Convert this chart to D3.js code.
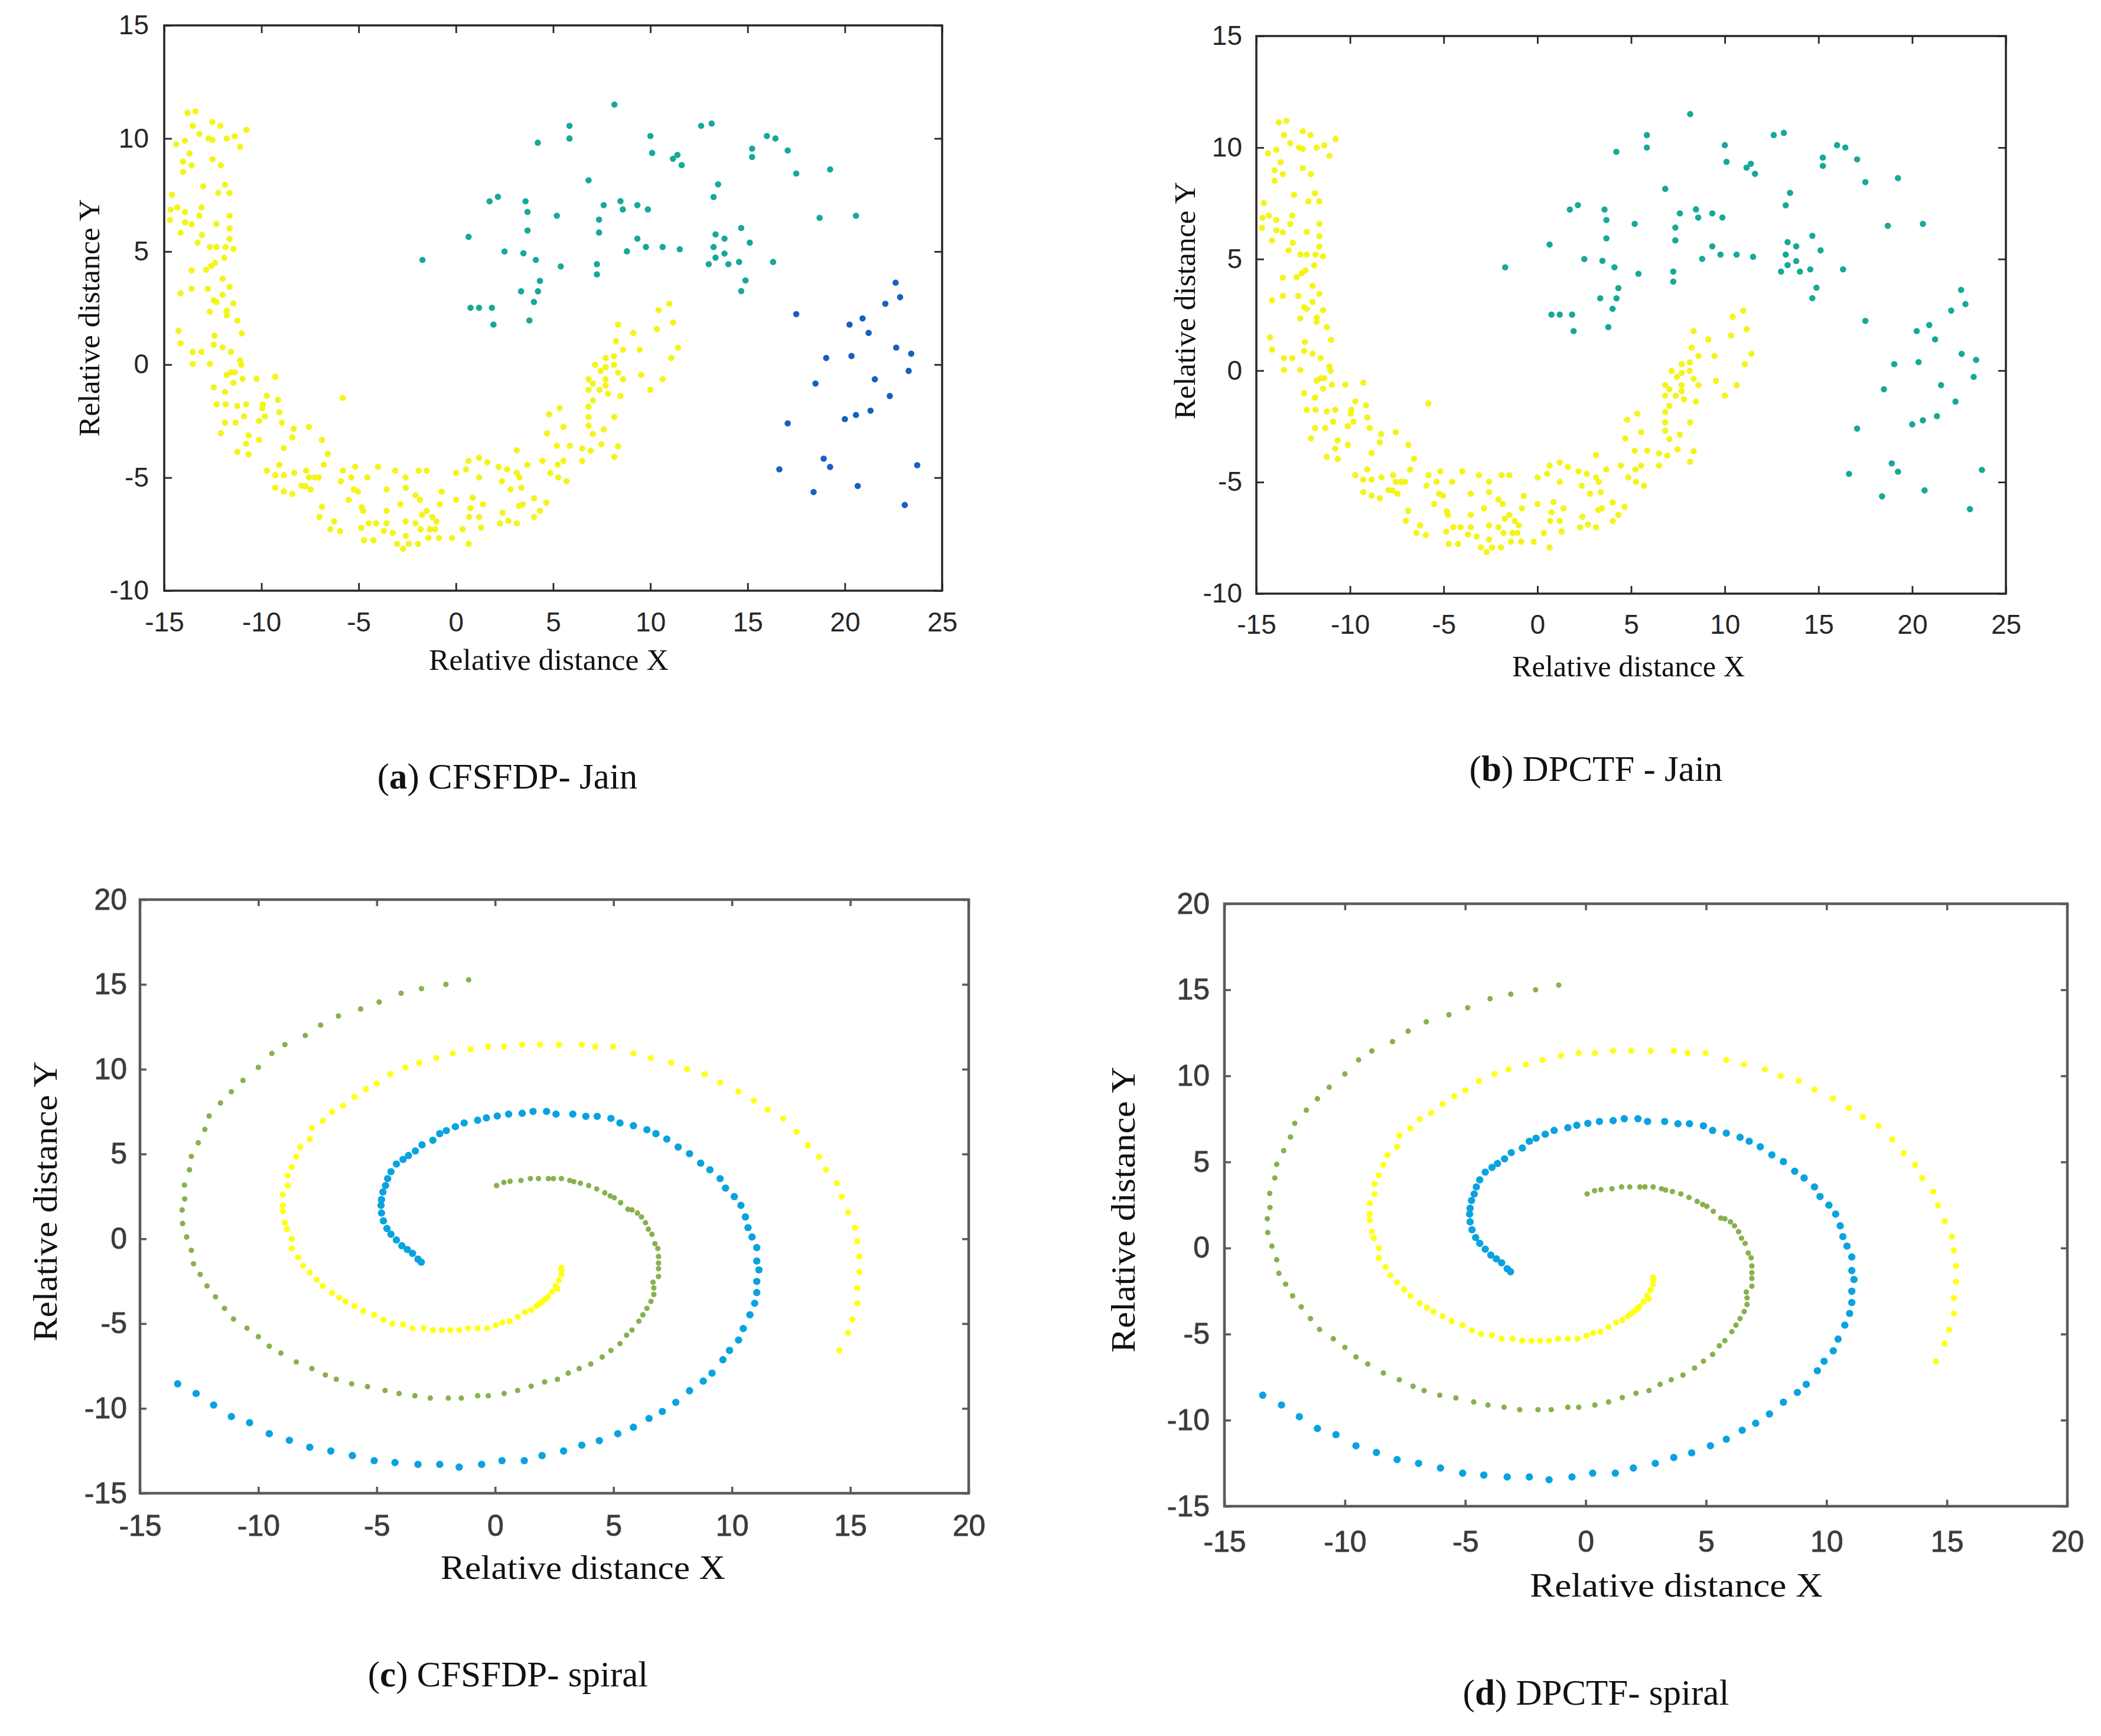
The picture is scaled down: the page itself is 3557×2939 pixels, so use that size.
<!DOCTYPE html>
<html>
<head>
<meta charset="utf-8">
<script src="https://cdn.jsdelivr.net/npm/d3@7/dist/d3.min.js"></script>
<style>
html,body{margin:0;padding:0;background:#fff;}
svg{display:block;}
</style>
</head>
<body>
<svg id="chart" width="3557" height="2939"></svg>
<script>
// ---------------- DATA ----------------
const jainXTicks = [-15,-10,-5,0,5,10,15,20,25];
const jainYTicks = [-10,-5,0,5,10,15];
const spiralXTicks = [-15,-10,-5,0,5,10,15,20];
const spiralYTicks = [-15,-10,-5,0,5,10,15,20];

const jainYellow = [
[-13.80,11.13],[-13.39,11.20],[-12.52,10.73],[-12.11,10.56],[-13.53,10.56],[-13.19,10.20],[-12.72,10.00],[-12.52,9.94],[-11.78,10.00],[-11.37,10.10],[-10.77,10.38],[-11.10,9.63],[-14.38,9.74],[-13.93,9.90],[-13.70,9.34],[-14.03,8.98],[-13.59,8.81],[-12.52,9.08],[-12.09,8.81],[-14.03,8.52],
[-12.99,7.88],[-11.87,7.95],[-12.22,7.59],[-11.64,7.59],[-14.60,7.51],[-14.67,6.85],[-14.33,6.95],[-13.93,6.75],[-13.08,6.95],[-13.19,6.58],[-14.70,6.40],[-13.93,6.29],[-13.59,6.20],[-12.31,6.22],[-11.64,6.58],[-11.64,6.02],[-14.16,5.83],[-13.06,5.73],[-11.64,5.56],[-13.28,5.39],[-12.65,5.20],[-12.31,5.20],[-11.84,5.20],[-11.44,5.12],[-11.91,4.72],[-12.38,4.50],[-12.58,4.36],[-12.85,4.19],[-13.59,4.17],
[-12.00,3.80],[-11.64,3.44],[-14.16,3.15],[-13.59,3.35],[-12.76,3.35],[-12.00,3.08],[-12.45,2.84],[-12.31,2.77],[-11.44,2.71],[-12.65,2.34],[-11.78,2.38],[-11.78,2.18],[-11.24,1.95],[-14.27,1.49],[-11.01,1.38],[-14.16,0.94],[-12.41,1.28],[-12.45,0.88],[-12.00,0.76],[-11.57,0.56],[-13.53,0.56],[-13.08,0.56],[-13.53,0.03],[-12.65,0.03],[-11.10,0.19],[-11.04,-0.01],[-11.57,-0.34],[-11.78,-0.45],[-11.37,-0.34],[-11.44,-0.81],[-10.97,-0.63],[-10.25,-0.63],[-9.29,-0.54],[-12.45,-1.01],[-11.87,-1.21],
[-5.82,-1.47],
[-9.72,-1.38],[-9.15,-1.56],[-9.93,-1.76],[-12.31,-1.76],[-11.84,-1.76],[-11.24,-1.83],[-10.79,-1.76],[-9.96,-1.93],[-9.08,-2.11],[-10.90,-2.29],[-9.82,-2.29],[-10.12,-2.49],[-8.95,-2.57],[-11.87,-2.57],[-11.33,-2.57],[-8.34,-2.84],[-7.56,-2.76],[-12.09,-3.04],[-10.66,-3.13],[-8.41,-3.22],[-10.12,-3.33],[-6.89,-3.33],[-10.79,-3.50],[-8.85,-3.69],[-6.59,-3.95],[-11.24,-3.86],[-10.66,-3.97],[-9.08,-4.43],[-6.79,-4.43],[-9.72,-4.69],[-9.29,-4.89],[-8.85,-4.89],[-8.32,-4.79],[-7.70,-4.69],[-7.56,-4.99],[-7.27,-4.99],[-7.06,-4.99],[-9.29,-5.45],[-8.85,-5.61],[-8.41,-5.72],[-7.94,-5.36],[-7.74,-5.38],[-7.47,-5.52],
[-5.81,-4.69],[-5.18,-4.52],[-4.01,-4.52],[-3.12,-4.69],[-5.92,-5.16],[-5.38,-4.99],[-4.55,-4.99],[-2.59,-4.99],[-1.91,-4.69],[-1.50,-4.69],[0.01,-4.79],[0.65,-4.26],[1.19,-4.12],[1.62,-4.32],[0.52,-4.63],[1.19,-4.99],[2.19,-4.52],[2.63,-4.63],[3.13,-4.79],[3.27,-4.99],[3.67,-4.43],[4.45,-4.26],[5.23,-4.43],[5.53,-4.26],[4.85,-4.79],[5.26,-4.99],[5.69,-5.16],[2.36,-5.16],[2.81,-5.52],[3.37,-5.45],[3.13,-3.79],[4.69,-3.04],[5.19,-3.59],[5.53,-2.76],[5.86,-3.59],[4.79,-2.20],[5.33,-1.93],
[-6.89,-6.29],[-7.02,-6.74],[-6.26,-6.94],[-6.46,-7.28],[-5.95,-7.37],[-5.51,-5.98],[-5.25,-5.52],[-5.04,-5.61],[-4.84,-6.31],[-4.77,-6.47],[-4.87,-7.22],[-4.48,-7.02],[-4.10,-7.02],[-3.56,-5.52],[-3.56,-6.47],[-3.56,-7.02],[-3.70,-7.35],[-3.25,-7.44],[-2.85,-6.18],[-2.58,-5.45],[-2.58,-6.94],[-2.58,-7.57],[-2.08,-5.78],[-1.85,-5.98],[-2.08,-7.02],[-1.81,-7.28],[-1.74,-6.64],[-1.50,-6.47],[-1.21,-6.74],[-1.00,-6.94],[-1.34,-7.28],[-1.07,-7.28],[-0.73,-5.62],[-0.83,-6.18],[0.01,-5.98],[0.86,-5.89],[1.39,-6.18],[0.75,-6.35],[0.68,-6.74],[1.19,-6.74],[1.29,-7.21],[0.34,-7.28],[-0.20,-7.67],[-0.87,-7.67],[-1.41,-7.67],[-4.73,-7.77],[-4.24,-7.77],[-3.02,-7.93],[-2.71,-8.14],[-2.42,-7.93],[-1.95,-7.93],[0.65,-7.93],[2.40,-6.55],[2.27,-7.02],[2.70,-6.91],[3.13,-7.02],[3.24,-6.25],[3.44,-6.18],[4.02,-5.91],[4.65,-6.11],[4.32,-6.47],[4.02,-6.74],
[10.98,2.69],[10.42,2.41],[8.34,1.77],[11.17,1.86],[10.33,1.57],[9.12,1.40],[8.23,1.03],[8.59,0.66],[9.45,0.66],[11.42,0.75],[11.07,0.29],[7.70,0.29],[8.13,0.37],[7.16,-0.01],[7.70,-0.11],[8.13,-0.01],[7.44,-0.28],[8.34,-0.36],[8.59,-0.65],[9.53,-0.46],[10.63,-0.65],[6.82,-0.65],[7.04,-0.84],[7.70,-0.65],[7.38,-1.12],[7.70,-0.92],[6.82,-1.12],[7.82,-1.29],[8.46,-1.39],[10.0,-1.12],[7.04,-1.58],[6.82,-1.86],[6.82,-2.32],[8.15,-2.32],[6.82,-2.70],[7.60,-2.87],[7.04,-3.07],[7.48,-3.53],[8.34,-3.61],[6.49,-3.71],[6.93,-3.81],[8.15,-4.08],[6.49,-4.26]
];

const jainTeal = [
[8.15,11.50],[5.84,10.56],[5.84,10.0],[10.0,10.11],[10.09,9.36],[11.16,9.10],[11.39,9.27],[11.61,8.82],[12.61,10.56],[13.15,10.66],[15.99,10.11],[16.43,10.0],[17.06,9.47],[15.23,9.55],[15.23,9.18],[17.50,8.45],[19.24,8.63],[6.82,8.15],[13.48,7.97],[13.25,7.41],[7.60,7.05],[8.46,7.23],[8.58,6.86],[9.33,7.05],[9.87,6.86],[7.36,6.41],[7.36,5.84],[9.33,5.57],[9.77,5.20],[8.79,5.01],[10.63,5.20],[11.51,5.10],[7.25,4.44],[7.25,3.99],[18.70,6.49],[20.57,6.58],[14.67,6.04],[13.35,5.76],[13.81,5.57],[15.11,5.39],[13.25,5.20],[13.81,4.91],[13.35,4.73],[13.00,4.44],[14.01,4.44],[14.56,4.54],[16.31,4.54],[14.89,3.72],[14.67,3.25],
[4.21,9.81],[-1.72,4.63],[0.65,5.65],[1.73,7.22],[2.16,7.42],[3.58,7.22],[3.68,6.75],[3.68,5.93],[2.50,5.00],[3.47,4.92],[4.11,4.63],[5.19,6.58],[5.39,4.34],[4.32,3.70],[3.35,3.24],[4.22,3.24],[4.01,2.77],[0.75,2.51],[1.19,2.51],[1.85,2.51],[1.93,1.77],[3.78,1.95]
];

const jainBlue = [
[22.61,3.62],[22.84,2.98],[22.08,2.69],[17.50,2.23],[20.24,1.77],[20.91,2.04],[21.22,1.40],[22.64,0.75],[23.41,0.48],[20.34,0.38],[19.04,0.29],[23.28,-0.28],[18.49,-0.84],[21.54,-0.65],[22.31,-1.39],[21.32,-2.04],[20.57,-2.23],[20.00,-2.41],[17.06,-2.60],[18.91,-4.16],[19.24,-4.53],[16.63,-4.63],[23.72,-4.45],[20.66,-5.37],[18.39,-5.64],[23.08,-6.21]
];

const spiralGreen = [
[-1.12,15.27],[-2.08,15.0],[-3.11,14.75],[-3.97,14.48],[-4.90,13.96],[-5.68,13.55],[-6.62,13.14],[-7.37,12.60],[-8.02,11.99],[-8.88,11.45],[-9.43,10.93],[-10.0,10.11],[-10.65,9.34],[-11.14,8.67],[-11.60,8.01],[-12.08,7.24],[-12.26,6.45],[-12.54,5.66],[-12.83,4.86],[-12.91,4.07],[-13.12,3.17],[-13.11,2.35],[-13.22,1.70],[-13.20,0.90],[-13.03,0.11],[-12.83,-0.68],[-12.74,-1.47],[-12.46,-2.10],[-12.17,-2.78],[-11.81,-3.42],[-11.43,-4.10],[-11.05,-4.73],[-10.48,-5.27],[-10.0,-5.77],[-9.54,-6.33],[-9.05,-6.74],[-8.40,-7.26],[-7.74,-7.65],[-7.17,-8.03],[-6.71,-8.28],[-6.06,-8.55],[-5.39,-8.71],[-4.65,-8.94],[-4.06,-9.12],[-3.39,-9.25],[-2.74,-9.39],[-1.98,-9.39],[-1.43,-9.39],[-0.74,-9.25],[-0.29,-9.25],[0.38,-9.12],[0.95,-8.94],[1.52,-8.69],[2.09,-8.44],[2.63,-8.28],
[3.09,-7.92],[3.55,-7.65],[4.04,-7.38],[4.52,-6.97],[4.89,-6.58],[5.27,-6.18],[5.55,-5.68],[5.78,-5.38],[6.07,-4.86],[6.24,-4.48],[6.41,-4.10],[6.58,-3.69],[6.70,-3.28],[6.70,-2.90],[6.67,-2.56],[6.90,-2.22],[6.90,-1.76],[6.90,-1.43],[6.90,-1.04],[6.87,-0.57],[6.75,-0.29],[6.62,0.27],[6.47,0.57],[6.35,0.95],[6.18,1.29],[6.01,1.52],[5.78,1.70],[5.61,1.74],[5.30,2.13],[5.03,2.42],[4.86,2.53],[4.63,2.71],[4.29,2.94],[3.95,3.14],[3.60,3.28],[3.32,3.37],[3.15,3.44],[2.80,3.55],[2.46,3.55],
[2.25,3.55],[1.83,3.55],[1.49,3.55],[1.09,3.44],[0.63,3.39],[0.37,3.33],[0.06,3.14]
];

const spiralYellow = [
[2.69,11.45],[1.89,11.45],[1.14,11.45],[0.38,11.33],[-0.29,11.33],[-1.03,11.18],[-1.79,10.93],[-2.48,10.66],[-3.20,10.38],[-3.79,10.11],[-4.43,9.71],[-5.0,9.16],[-5.46,8.82],[-5.94,8.37],[-6.42,7.85],[-6.89,7.49],[-7.28,6.95],[-7.74,6.54],[-7.83,5.88],[-8.23,5.41],[-8.40,4.84],[-8.59,4.23],[-8.77,3.73],[-8.77,3.14],[-8.97,2.60],[-8.97,1.97],[-8.97,1.63],[-8.88,0.95],[-8.80,0.57],[-8.59,0.00],[-8.59,-0.57],[-8.31,-1.09],[-8.11,-1.58],[-7.83,-1.99],[-7.54,-2.40],[-7.28,-2.78],[-6.89,-3.19],[-6.59,-3.46],[-6.32,-3.69],[-5.94,-3.96],[-5.57,-4.25],[-5.11,-4.48],[-4.72,-4.77],[-4.34,-5.0],[-3.89,-5.05],[-3.49,-5.27],[-3.03,-5.27],[-2.63,-5.38],[-2.25,-5.38],[-1.89,-5.38],[-1.52,-5.38],[-1.14,-5.27],[-0.74,-5.27],[-0.34,-5.27],[0.03,-5.09],[0.31,-4.93],[0.61,-4.86],[0.95,-4.59],[1.26,-4.32],[1.52,-4.19],[1.75,-3.96],[2.0,-3.69],[2.23,-3.42],[2.40,-3.12],[2.55,-2.78],[2.69,-2.44],[2.80,-2.10],[2.80,-1.85],[2.80,-1.70],[2.62,-2.95],[2.12,-3.55],[1.88,-3.82],
[3.66,11.45],[4.23,11.33],[4.98,11.33],[5.84,10.93],[6.58,10.66],[7.44,10.38],[8.10,10.0],[8.85,9.71],[9.50,9.21],[10.27,8.69],[10.93,8.14],[11.51,7.62],[12.16,7.10],[12.73,6.31],[13.20,5.52],[13.68,4.84],[13.97,4.07],[14.43,3.28],[14.63,2.49],[14.91,1.56],[15.20,0.66],[15.29,-0.14],[15.38,-1.04],[15.38,-1.95],[15.29,-2.90],[15.29,-3.80],[15.09,-4.75],[14.91,-5.54],[14.54,-6.58]
];

const spiralBlue = [
[-3.12,-1.38],[-3.26,-1.20],[-3.49,-0.86],[-3.71,-0.63],[-3.94,-0.41],[-4.17,-0.07],[-4.40,0.27],[-4.57,0.61],[-4.72,1.06],[-4.80,1.52],[-4.82,1.97],[-4.80,2.31],[-4.74,2.76],[-4.63,3.14],[-4.54,3.55],[-4.40,3.96],[-4.17,4.41],[-3.89,4.68],[-3.66,4.91],[-3.37,5.18],[-3.09,5.54],[-2.63,5.81],[-2.34,6.20],[-2.06,6.38],[-1.68,6.61],[-1.31,6.83],[-0.74,6.99],[-0.37,7.13],[0.09,7.24],[0.57,7.35],[1.14,7.40],[1.60,7.51],[2.17,7.51],[2.57,7.35],
[3.28,7.35],[3.83,7.22],[4.31,7.22],[4.89,7.10],[5.27,6.83],[5.84,6.67],[6.41,6.43],[6.79,6.20],[7.25,5.88],[7.73,5.41],[8.21,5.02],[8.68,4.46],[9.07,4.07],[9.50,3.55],[9.73,2.99],[10.10,2.49],[10.38,1.97],[10.57,1.29],[10.68,0.66],[10.85,0.11],[11.05,-0.52],[11.05,-1.31],[11.14,-1.83],[11.05,-2.51],[11.05,-3.17],[10.96,-3.80],[10.76,-4.48],[10.48,-5.29],[10.28,-5.97],[9.90,-6.58],[9.62,-7.13],[9.16,-7.92],[8.79,-8.39],[8.21,-8.96],[7.63,-9.64],[7.06,-10.18],[6.50,-10.59],[5.84,-11.11],[5.18,-11.49],[4.40,-11.90],[3.66,-12.17],[2.89,-12.51],
[1.98,-12.78],[1.23,-13.08],[0.29,-13.08],[-0.57,-13.30],[-1.52,-13.46],[-2.34,-13.30],[-3.26,-13.30],[-4.23,-13.19],[-5.11,-13.08],[-6.03,-12.78],[-6.94,-12.51],[-7.83,-12.29],[-8.69,-11.88],[-9.54,-11.49],[-10.37,-10.84],[-11.14,-10.48],[-11.89,-9.80],[-12.63,-9.12],[-13.41,-8.55]
];

const captions = [
  {label:"a", text:") CFSFDP- Jain"},
  {label:"b", text:") DPCTF - Jain"},
  {label:"c", text:") CFSFDP- spiral"},
  {label:"d", text:") DPCTF- spiral"}
];
const xTitle = "Relative distance X";
const yTitle = "Relative distance Y";

// ---------------- COLORS ----------------
const C = {
  jYellow:"#f4f41c", jTeal:"#17a898", jBlue:"#1560c2",
  sBlue:"#0aa3df", sGreen:"#87b14e", sYellow:"#ffff14"
};

// ---------------- LAYOUT ----------------
const panels = [
  {box:[278,43,1595,1000], xd:[-15,25], yd:[-10,15], xt:jainXTicks, yt:jainYTicks,
   series:[{d:jainYellow,c:C.jYellow,r:5.3},{d:jainTeal,c:C.jTeal,r:5.3},{d:jainBlue,c:C.jBlue,r:5.3}],
   tickFont:46, padX:36, padY:26, tickLen:13, frame:"#262626", fw:3.5, tickColor:"#262626", tickStroke:0,
   xt_pos:[929,1134,406,50], yt_pos:[168,538,402,50], cap:[859,1335], ci:0},
  {box:[2127,61,3396,1005], xd:[-15,25], yd:[-10,15], xt:jainXTicks, yt:jainYTicks,
   series:[{d:jainYellow,c:C.jYellow,r:5.3},{d:jainTeal,c:C.jTeal,r:5.3},{d:jainBlue,c:C.jTeal,r:5.3}],
   tickFont:46, padX:35, padY:24, tickLen:13, frame:"#262626", fw:3.5, tickColor:"#262626", tickStroke:0,
   xt_pos:[2757,1145,394,50], yt_pos:[2023,509,402,50], cap:[2702,1322], ci:1},
  {box:[237,1523,1640,2528], xd:[-15,20], yd:[-15,20], xt:spiralXTicks, yt:spiralYTicks,
   series:[{d:spiralGreen,c:C.sGreen,r:4.6},{d:spiralYellow,c:C.sYellow,r:5.2},{d:spiralBlue,c:C.sBlue,r:6.2}],
   tickFont:50, padX:36, padY:22, tickLen:11, frame:"#5a5a5a", fw:4.5, tickColor:"#3c3c3c", tickStroke:0.9,
   xt_pos:[987,2673,482,58], yt_pos:[96,2034,474,58], cap:[860,2855], ci:2},
  {box:[2073,1530,3500,2550], xd:[-15,20], yd:[-15,20], xt:spiralXTicks, yt:spiralYTicks,
   series:[{d:spiralGreen,c:C.sGreen,r:4.6},{d:spiralYellow,c:C.sYellow,r:5.2},{d:spiralBlue,c:C.sBlue,r:6.2}],
   tickFont:50, padX:41, padY:25, tickLen:11, frame:"#5a5a5a", fw:4.5, tickColor:"#3c3c3c", tickStroke:0.9,
   xt_pos:[2838,2703,496,58], yt_pos:[1921,2048,484,58], cap:[2702,2886], ci:3}
];

const fmt = d => String(d);   // plain hyphen-minus, as in the reference

const svg = d3.select("#chart");
svg.append("rect").attr("width",3557).attr("height",2939).attr("fill","#fff");

panels.forEach(p => {
  const [x0,y0,x1,y1] = p.box;
  const x = d3.scaleLinear().domain(p.xd).range([x0,x1]);
  const y = d3.scaleLinear().domain(p.yd).range([y1,y0]);
  const g = svg.append("g");

  // points
  p.series.forEach(s => {
    g.append("g").selectAll("circle").data(s.d).join("circle")
      .attr("cx", d => x(d[0])).attr("cy", d => y(d[1]))
      .attr("r", s.r).attr("fill", s.c);
  });

  const styleAxis = (sel, labels) => {
    sel.select(".domain").remove();
    sel.selectAll(".tick line").attr("stroke", p.frame).attr("stroke-width", p.fw*0.8);
    sel.selectAll(".tick text")
      .attr("font-family","'Liberation Sans', Arial, sans-serif")
      .attr("font-size", p.tickFont)
      .attr("fill", p.tickColor)
      .attr("stroke", p.tickStroke ? p.tickColor : "none")
      .attr("stroke-width", p.tickStroke);
    if (!labels) sel.selectAll(".tick text").remove();
  };

  g.append("g").attr("transform",`translate(0,${y1})`)
    .call(d3.axisBottom(x).tickValues(p.xt).tickSize(-p.tickLen).tickPadding(p.padX).tickFormat(fmt))
    .call(s => styleAxis(s,true));
  g.append("g").attr("transform",`translate(0,${y0})`)
    .call(d3.axisTop(x).tickValues(p.xt).tickSize(-p.tickLen).tickFormat(""))
    .call(s => styleAxis(s,false));
  g.append("g").attr("transform",`translate(${x0},0)`)
    .call(d3.axisLeft(y).tickValues(p.yt).tickSize(-p.tickLen).tickPadding(p.padY).tickFormat(fmt))
    .call(s => styleAxis(s,true));
  g.append("g").attr("transform",`translate(${x1},0)`)
    .call(d3.axisRight(y).tickValues(p.yt).tickSize(-p.tickLen).tickFormat(""))
    .call(s => styleAxis(s,false));

  // frame
  g.append("rect").attr("x",x0).attr("y",y0).attr("width",x1-x0).attr("height",y1-y0)
    .attr("fill","none").attr("stroke",p.frame).attr("stroke-width",p.fw);

  // axis titles
  const serif = "'Liberation Serif','Times New Roman',serif";
  g.append("text").attr("x",p.xt_pos[0]).attr("y",p.xt_pos[1])
    .attr("text-anchor","middle").attr("font-family",serif).attr("font-size",p.xt_pos[3])
    .attr("fill","#111").attr("textLength",p.xt_pos[2]).attr("lengthAdjust","spacingAndGlyphs")
    .text(xTitle);
  g.append("text").attr("transform",`translate(${p.yt_pos[0]},${p.yt_pos[1]}) rotate(-90)`)
    .attr("text-anchor","middle").attr("font-family",serif).attr("font-size",p.yt_pos[3])
    .attr("fill","#111").attr("textLength",p.yt_pos[2]).attr("lengthAdjust","spacingAndGlyphs")
    .text(yTitle);

  // caption
  const cap = captions[p.ci];
  const t = g.append("text").attr("x",p.cap[0]).attr("y",p.cap[1])
    .attr("text-anchor","middle").attr("font-family",serif).attr("font-size",61).attr("fill","#111");
  t.append("tspan").text("(");
  t.append("tspan").attr("font-weight","bold").text(cap.label);
  t.append("tspan").text(cap.text);
});
</script>
</body>
</html>
